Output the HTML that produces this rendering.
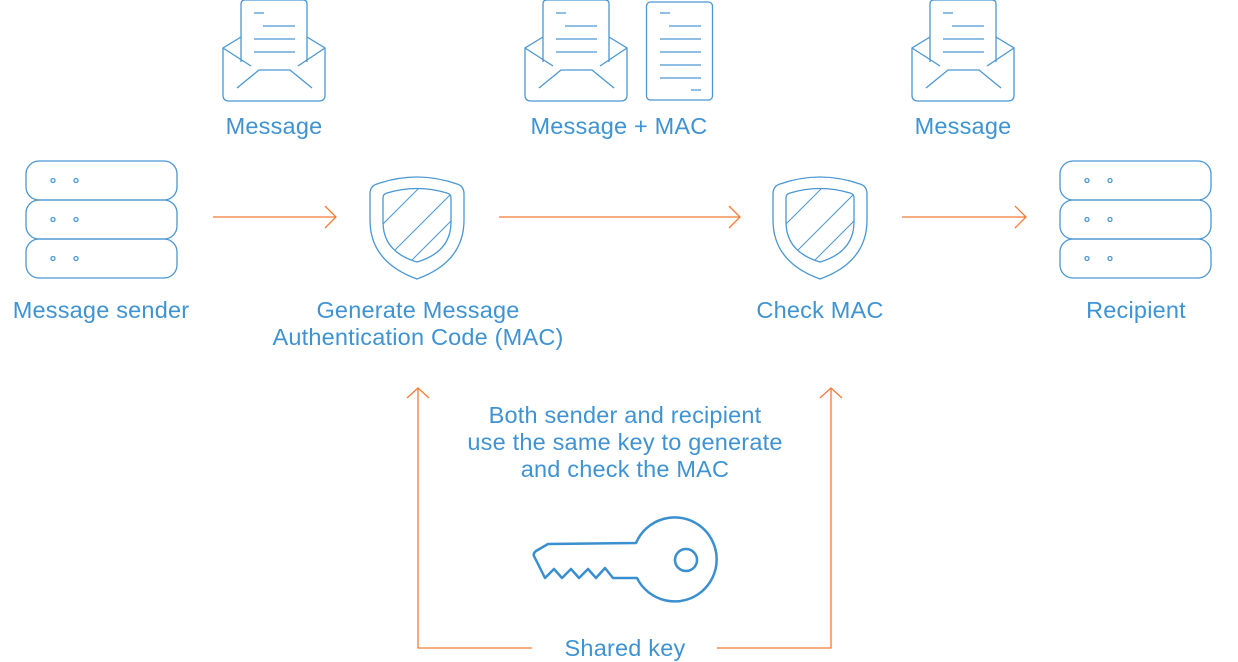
<!DOCTYPE html>
<html><head><meta charset="utf-8"><style>
html,body{margin:0;padding:0;background:#fff;}
svg{display:block;}
text{font-family:"Liberation Sans",sans-serif;font-size:23.5px;fill:#3f93d2;text-anchor:middle;letter-spacing:0.2px;}
</style></head><body>
<svg width="1238" height="662" viewBox="0 0 1238 662">
<defs>
<g id="env" fill="none" stroke="#4a97d2" stroke-width="1.3">
  <path d="M241,62 L241,4 Q241,0 245,0 L303,0 Q307,0 307,4 L307,62" fill="#fff"/>
  <path d="M241,37 L223,48 L223,95 Q223,101 229,101 L319,101 Q325,101 325,95 L325,48 L307,37"/>
  <path d="M223,48 L251,66 M325,48 L298,66"/>
  <path d="M237,88 L259,70 L290,70 L312,88"/>
  <path d="M254,13 H264 M263,26 H295 M254,39 H295 M254,52 H295"/>
</g>
<g id="srv" fill="none" stroke="#4a97d2" stroke-width="1.3">
  <rect x="0" y="0" width="151" height="39" rx="13"/>
  <rect x="0" y="39" width="151" height="39" rx="13"/>
  <rect x="0" y="78" width="151" height="39" rx="13"/>
  <circle cx="27" cy="19.5" r="2"/><circle cx="50" cy="19.5" r="2"/>
  <circle cx="27" cy="58.5" r="2"/><circle cx="50" cy="58.5" r="2"/>
  <circle cx="27" cy="97.5" r="2"/><circle cx="50" cy="97.5" r="2"/>
</g>
<clipPath id="ic"><path d="M-34,198 Q-34,194 -30,193 Q0,184 30,193 Q34,194 34,198 L34,222 Q34,252 0,262 Q-34,252 -34,222 Z"/></clipPath>
<g id="sh" fill="none" stroke="#4a97d2" stroke-width="1.3">
  <path d="M-47,194 Q-47,186 -40,184 Q0,170 40,184 Q47,186 47,194 L47,220 Q47,262 0,279 Q-47,262 -47,220 Z"/>
  <path d="M-34,198 Q-34,194 -30,193 Q0,184 30,193 Q34,194 34,198 L34,222 Q34,252 0,262 Q-34,252 -34,222 Z"/>
  <g clip-path="url(#ic)" stroke-width="1">
    <path d="M-50,240 L20,170 M-40,268 L40,188 M-25,280 L50,205 M-5,290 L60,225"/>
  </g>
</g>
</defs>

<use href="#env"/>
<use href="#env" x="302"/>
<use href="#env" x="689"/>
<g fill="none" stroke="#4a97d2" stroke-width="1.3">
  <rect x="646.5" y="2" width="66" height="98" rx="4"/>
  <path d="M660,13 H670 M669,26 H701 M660,39 H701 M660,52 H701 M660,65 H701 M660,78 H701 M691,90 H701"/>
</g>

<text x="274" y="134">Message</text>
<text x="619" y="134">Message + MAC</text>
<text x="963" y="134">Message</text>

<use href="#srv" x="26" y="161"/>
<use href="#srv" x="1060" y="161"/>
<use href="#sh" x="417"/>
<use href="#sh" x="820"/>

<text x="101" y="318">Message sender</text>
<text x="418" y="318">Generate Message</text>
<text x="418" y="345">Authentication Code (MAC)</text>
<text x="820" y="318">Check MAC</text>
<text x="1136" y="318">Recipient</text>

<g fill="none" stroke="#f47b35" stroke-width="1.3">
  <path d="M213,217 H336 M325,206 L336,217 L325,228"/>
  <path d="M499,217 H740 M729,206 L740,217 L729,228"/>
  <path d="M902,217 H1026 M1015,206 L1026,217 L1015,228"/>
  <path d="M532,648 H418 V388 M407,398 L418,388 L429,398"/>
  <path d="M717,648 H831 V388 M820,398 L831,388 L842,398"/>
</g>

<text x="625" y="423">Both sender and recipient</text>
<text x="625" y="450">use the same key to generate</text>
<text x="625" y="477">and check the MAC</text>

<g fill="none" stroke="#3a8fcf" stroke-width="2.5" stroke-linejoin="round">
  <path d="M636,543 L548,544 L536,551 Q532,554 535,558 L545,578 L554,569 L562,578 L571,569 L579,578 L588,569 L596,578 L605,568 L613,578 L637,578 A42,42 0 1 0 636,543 Z"/>
  <circle cx="686" cy="560" r="11"/>
</g>

<text x="625" y="656">Shared key</text>
</svg>
</body></html>
